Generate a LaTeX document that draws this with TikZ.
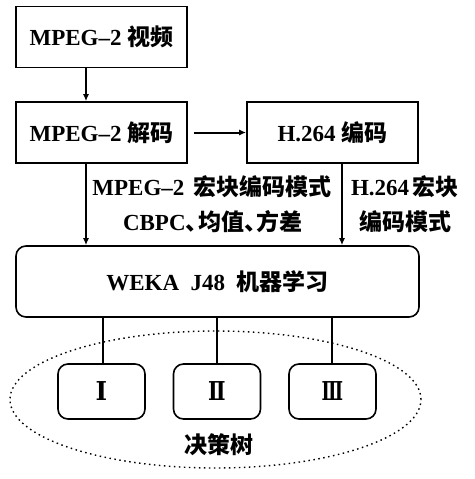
\documentclass[tikz,border=0pt]{standalone}
\usepackage{fontspec}
\setmainfont{Liberation Serif}
\newfontfamily\cjk{Noto Sans CJK SC}
\newfontfamily\romfont{DejaVu Serif}
\usetikzlibrary{arrows.meta,shapes.geometric}
\newcommand{\zh}[1]{{\cjk\bfseries #1}}
\newcommand{\rom}[2]{\scalebox{#1}[1]{\romfont\bfseries\fontsize{26}{28}\selectfont #2}}
\newcommand{\dun}{\zh{、}\kern-0.45em}
\begin{document}
\begin{tikzpicture}[x=1pt,y=1pt,
  every node/.style={font=\fontsize{23}{27}\selectfont\bfseries},
  box/.style={draw,line width=1.6pt,minimum width=171pt,minimum height=61pt,inner sep=0pt},
  rbox/.style={draw,line width=1.6pt,rounded corners=10pt,inner sep=0pt},
  conn/.style={line width=2pt},
  arr/.style={conn,-{Latex[length=7pt,width=6pt]}},
  lbl/.style={inner sep=0pt,align=center}]
\useasboundingbox (0,0) rectangle (474,-479);
\node[box] (b1) at (101.5,-37) {MPEG–2 \zh{视频}};
\node[box] (b2) at (101.5,-132.5) {MPEG–2 \zh{解码}};
\node[box] (b3) at (332.5,-132.5) {H.264 \zh{编码}};
\node[rbox,minimum width=403pt,minimum height=71pt] (weka) at (217.5,-281.5) {WEKA\hspace{0.5em}J48\hspace{0.5em}\zh{机器学习}};
\node[rbox,minimum width=87pt,minimum height=55pt] (t1) at (101.5,-391.5) {\rom{0.95}{Ⅰ}};
\node[rbox,minimum width=87pt,minimum height=55pt] (t2) at (217,-391.5) {\rom{0.8}{Ⅱ}};
\node[rbox,minimum width=87pt,minimum height=55pt] (t3) at (332.5,-391.5) {\rom{0.68}{Ⅲ}};
\node[draw,dash pattern=on 1.5pt off 3.5pt,line width=1.4pt,ellipse,minimum width=411pt,minimum height=137pt,inner sep=0pt] (ell) at (215.5,-399.5) {};
\node[lbl] (dt) at (219,-445) {\zh{决策树}};
\node[lbl] (l1) at (212,-187) {MPEG–2\hspace{0.4em}\zh{宏块编码模式}};
\node[lbl] (l2) at (213,-222) {CBPC\dun\zh{均值}\dun\zh{方差}};
\node[lbl] (l3) at (405,-187) {H.264\,\zh{宏块}};
\node[lbl] (l4) at (405,-222) {\zh{编码模式}};
\coordinate (a1) at ([xshift=-15.5pt]b2.south);
\coordinate (a2) at ([xshift=9.5pt]b3.south);
\draw[arr] ([xshift=-15.5pt]b1.south) -- ([xshift=-15.5pt]b2.north);
\draw[arr] ([xshift=6pt]b2.east) -- (b3.west);
\draw[arr] (a1) -- (a1 |- weka.north);
\draw[arr] (a2) -- (a2 |- weka.north);
\coordinate (c1) at ([xshift=1.5pt]t1.north);
\coordinate (c3) at ([xshift=-0.5pt]t3.north);
\draw[conn] (c1) -- (c1 |- weka.south);
\draw[conn] (t2.north) -- (t2.north |- weka.south);
\draw[conn] (c3) -- (c3 |- weka.south);
\end{tikzpicture}
\end{document}
